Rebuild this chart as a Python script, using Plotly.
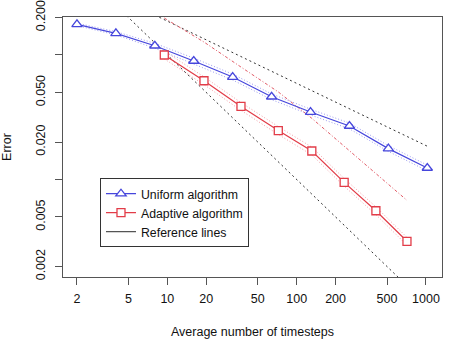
import plotly.graph_objects as go

# ---------------- data ----------------
uniform_x = [2, 4, 8, 16, 32, 64, 128, 256, 512, 1024]
uniform_err = [0.176, 0.149, 0.1186, 0.0895, 0.0665, 0.0462, 0.0348, 0.0269, 0.0177, 0.01237]
uniform_upper = [0.180, 0.154, 0.124, 0.0944, 0.0702, 0.0487, 0.0367, 0.0284, 0.0187, 0.01305]
uniform_lower = [0.172, 0.145, 0.1135, 0.0848, 0.0630, 0.0438, 0.0330, 0.0255, 0.0168, 0.01173]

adaptive_x = [9.47, 19.2, 37.1, 72.1, 131, 233, 410, 713]
adaptive_err = [0.1, 0.0621, 0.0386, 0.0247, 0.01694, 0.00949, 0.00561, 0.00319]
adaptive_upper = [0.1075, 0.0668, 0.0415, 0.0266, 0.0182, 0.0102, 0.00603, 0.00343]
adaptive_lower = [0.093, 0.0578, 0.0359, 0.0230, 0.01576, 0.00883, 0.00522, 0.00297]
adaptive_ref = [0.198, 0.127, 0.080, 0.0505, 0.031, 0.0185, 0.0111, 0.0068]

steep_ref_x = [4, 700]
steep_ref_y = [0.25, 0.001429]
shallow_ref_x = [8, 1024]
shallow_ref_y = [0.209, 0.0185]

x_tickvals = [2, 5, 10, 20, 50, 100, 200, 500, 1000]
x_ticktext = ["2", "5", "10", "20", "50", "100", "200", "500", "1000"]
y_tickvals = [0.2, 0.1, 0.05, 0.02, 0.01, 0.005, 0.002]
y_ticktext = ["0.200", "", "0.050", "0.020", "", "0.005", "0.002"]

BLUE = "#4646dc"
BLUE_BAND = "#9c9cf0"
RED = "#e23c48"
RED_BAND = "#f4a0a8"
RED_REF = "#e25a66"
GREY = "#333333"
FONT = "Liberation Sans, Arial, Helvetica, sans-serif"

fig = go.Figure()

# bands
for ys in (uniform_upper, uniform_lower):
    fig.add_trace(go.Scatter(x=uniform_x, y=ys, mode="lines", showlegend=False,
                             line=dict(color=BLUE_BAND, width=1, dash="1px,2px"),
                             hoverinfo="skip"))
for ys in (adaptive_upper, adaptive_lower):
    fig.add_trace(go.Scatter(x=adaptive_x, y=ys, mode="lines", showlegend=False,
                             line=dict(color=RED_BAND, width=1, dash="1px,2px"),
                             hoverinfo="skip"))

# reference lines
fig.add_trace(go.Scatter(x=steep_ref_x, y=steep_ref_y, mode="lines", showlegend=False,
                         line=dict(color=GREY, width=1, dash="2px,3px")))
fig.add_trace(go.Scatter(x=shallow_ref_x, y=shallow_ref_y, mode="lines", showlegend=False,
                         line=dict(color=GREY, width=1, dash="2px,3px")))
fig.add_trace(go.Scatter(x=adaptive_x, y=adaptive_ref, mode="lines", showlegend=False,
                         line=dict(color=RED_REF, width=1, dash="3px,2px,1px,2px")))

# data
fig.add_trace(go.Scatter(x=uniform_x, y=uniform_err, mode="lines+markers",
                         name="Uniform algorithm",
                         line=dict(color=BLUE, width=1.2),
                         marker=dict(symbol="triangle-up", size=9, color="white",
                                     line=dict(color=BLUE, width=1.3))))
fig.add_trace(go.Scatter(x=adaptive_x, y=adaptive_err, mode="lines+markers",
                         name="Adaptive algorithm",
                         line=dict(color=RED, width=1.2),
                         marker=dict(symbol="square", size=8, color="white",
                                     line=dict(color=RED, width=1.3))))
fig.add_trace(go.Scatter(x=[None], y=[None], mode="lines", name="Reference lines",
                         line=dict(color="#555555", width=1.2)))

fig.update_layout(
    width=474, height=355,
    margin=dict(l=63, r=32, t=17, b=78, autoexpand=False),
    paper_bgcolor="white", plot_bgcolor="white",
    font=dict(family=FONT, size=12, color="#111111"),
    showlegend=True,
    legend=dict(x=0.0976, y=0.38, xanchor="left", yanchor="top",
                bordercolor="#333333", borderwidth=1, bgcolor="white",
                font=dict(size=12.3), tracegroupgap=0, itemwidth=30),
)

fig.update_xaxes(
    type="log", range=[0.193, 3.124], automargin=False,
    tickvals=x_tickvals, ticktext=x_ticktext,
    showline=True, linecolor="#555555", linewidth=1.2, mirror=True,
    ticks="outside", ticklen=7, tickcolor="#555555", tickwidth=1.2,
    ticklabelstandoff=3,
    showgrid=False, zeroline=False,
    tickfont=dict(size=12.5),
    title=dict(text="Average number of timesteps", font=dict(size=12.5), standoff=22),
)
fig.update_yaxes(
    type="log", range=[-2.783, -0.695], automargin=False,
    tickvals=y_tickvals, ticktext=y_ticktext, tickangle=-90,
    showline=True, linecolor="#555555", linewidth=1.2, mirror=True,
    ticks="outside", ticklen=7, tickcolor="#555555", tickwidth=1.2,
    ticklabelstandoff=5, ticklabeloverflow="allow",
    showgrid=False, zeroline=False,
    tickfont=dict(size=12.5),
    title=dict(text="Error", font=dict(size=12.5), standoff=21),
)

# remove the browser's default 8px body margin so the figure sits at the page origin
fig.write_html("out.html",
               config={"displayModeBar": False},
               post_script="document.body.style.margin='0px';document.body.style.overflow='hidden';")
